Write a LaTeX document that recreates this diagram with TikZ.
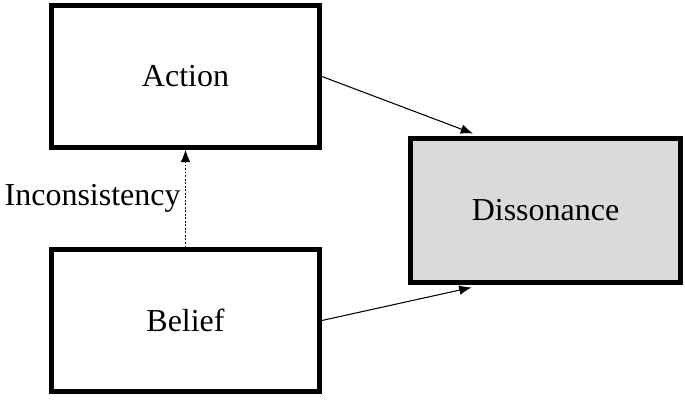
\documentclass[tikz,border=0pt]{standalone}
\usepackage{fontspec}
\setmainfont{Liberation Serif}
\usetikzlibrary{arrows.meta}
\definecolor{dissgray}{HTML}{DADADA}
\tikzset{
  box/.style={draw, line width=2.8pt, minimum width=5.36cm, minimum height=2.83cm},
  link/.style={-{Latex[length=7pt,width=5.5pt]}, line width=0.6pt}
}
\begin{document}
\begin{tikzpicture}[every node/.style={font=\fontsize{18.2}{22}\selectfont}]
  \useasboundingbox (0,0) rectangle (13.7,8);
  \node[box] (act) at (3.71,6.47) {Action};
  \node[box] (bel) at (3.71,1.59) {Belief};
  \node[box, fill=dissgray, minimum width=5.40cm, minimum height=2.88cm] (diss) at (10.91,3.79) {Dissonance};
  \draw[link] (act.east) -- ([xshift=1.3cm, yshift=0.05cm]diss.north west);
  \draw[link] (bel.east) -- ([xshift=1.27cm, yshift=-0.05cm]diss.south west);
  \draw[link, dash pattern=on 1pt off 1pt] (bel.north) -- node[left, inner sep=2.5pt] {Inconsistency} (act.south);
\end{tikzpicture}
\end{document}
